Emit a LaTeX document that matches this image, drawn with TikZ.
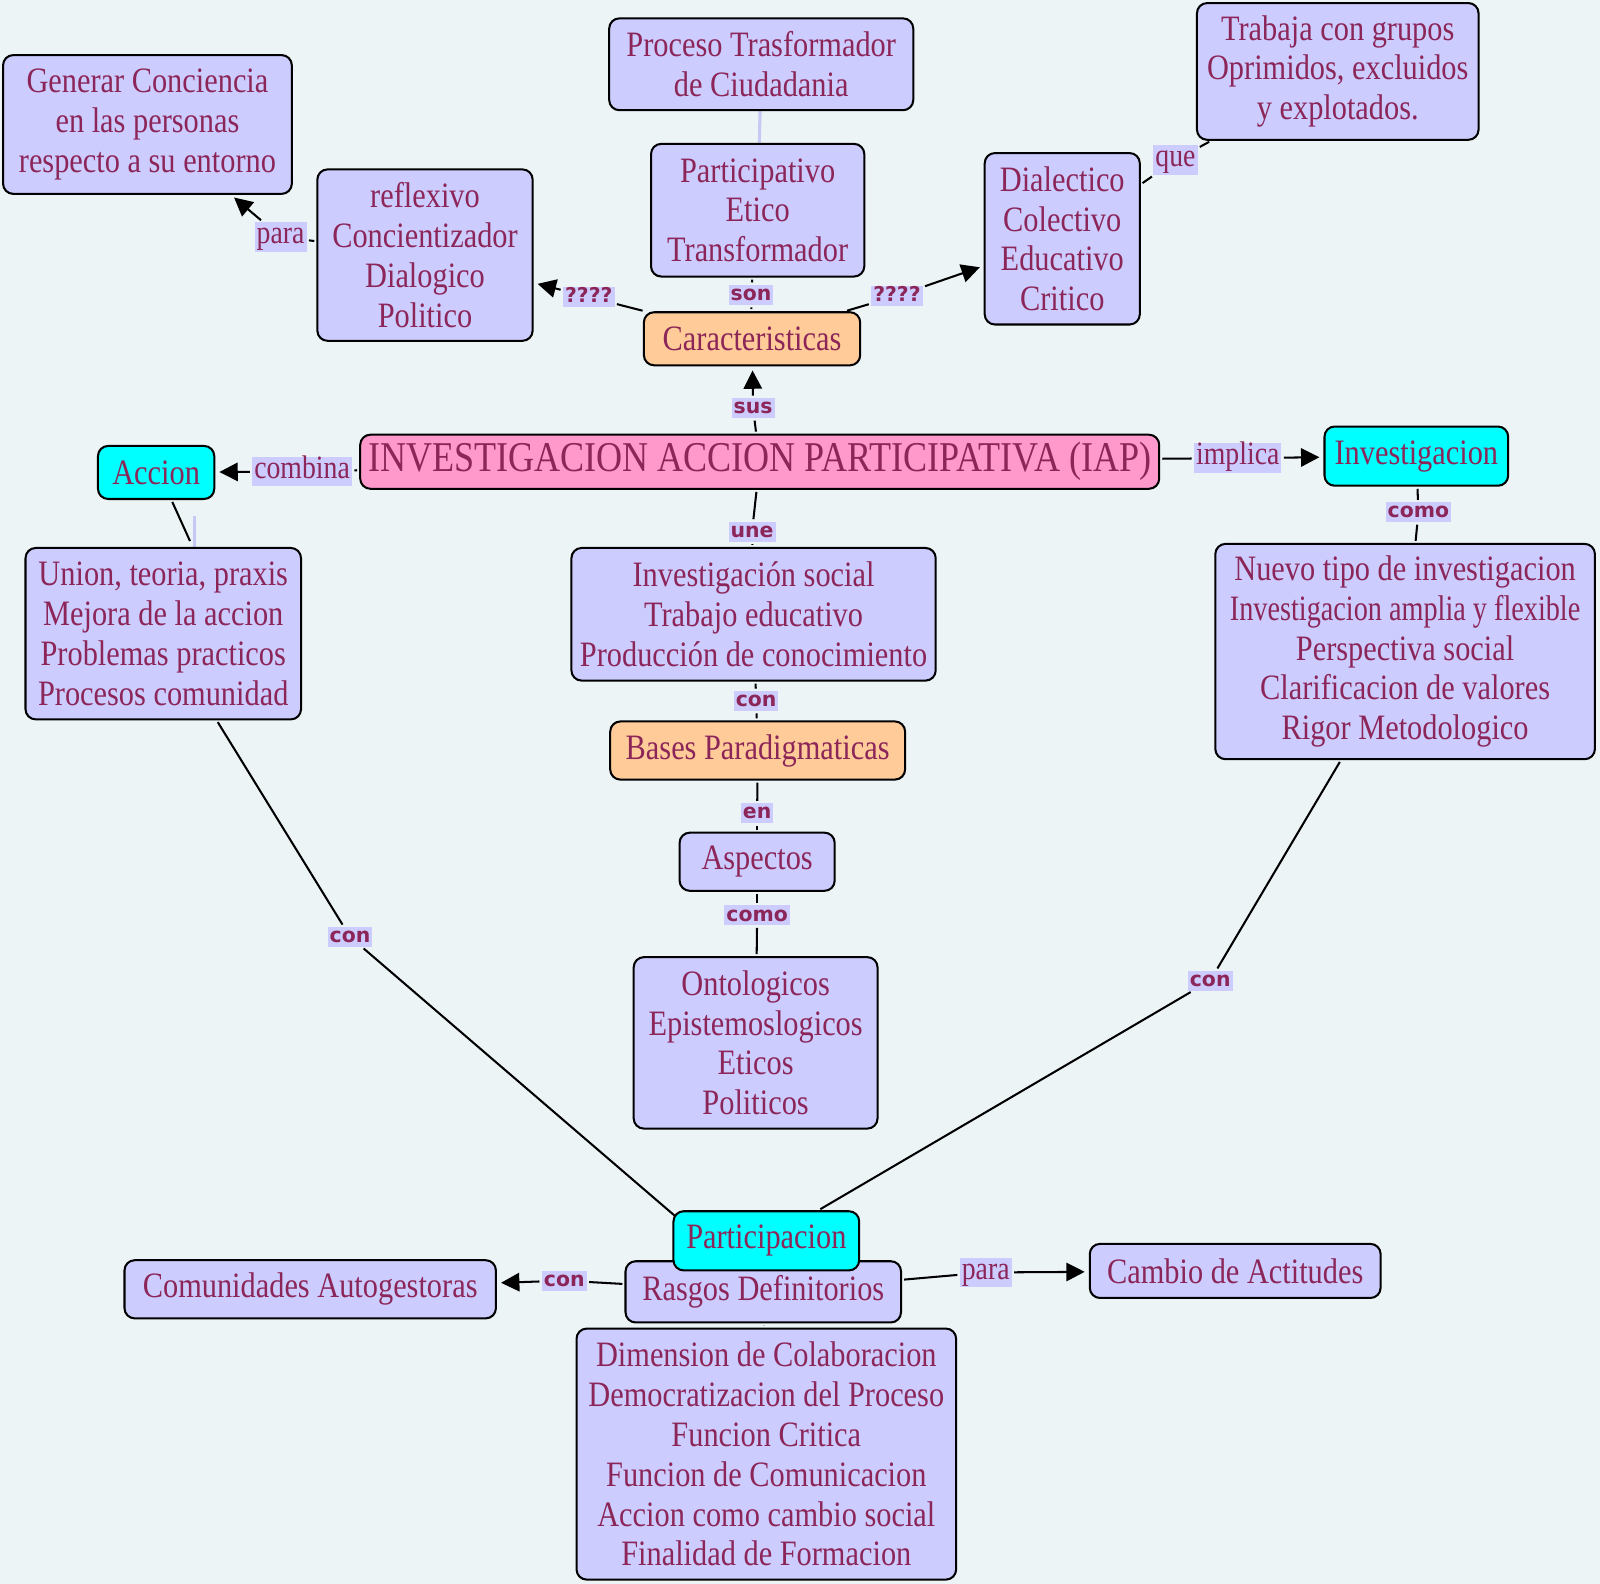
\documentclass[tikz,border=0pt]{standalone}
\usepackage{fontspec}
\setmainfont{Liberation Serif}[FakeStretch=0.85]
\newfontfamily\labfont{DejaVu Sans}
\usetikzlibrary{arrows.meta}
\definecolor{bgc}{HTML}{EDF4F6}
\definecolor{lav}{HTML}{CCCCFF}
\definecolor{cya}{HTML}{00FFFF}
\definecolor{peach}{HTML}{FFCC99}
\definecolor{pinkc}{HTML}{FF99CC}
\definecolor{txt}{HTML}{8C2659}
\definecolor{pale}{HTML}{C8C8F4}
\pgfdeclarelayer{back}\pgfdeclarelayer{links}\pgfsetlayers{back,links,main}
\tikzset{
 box/.style={draw=black, line width=1pt, rounded corners=5pt, fill=lav, text=txt, align=center, inner sep=1pt, font=\fontsize{17.5}{19.5}\selectfont},
 cyanbox/.style={box, fill=cya},
 peachbox/.style={box, fill=peach},
 lab/.style={fill=lav, text=txt, inner xsep=1pt, inner ysep=0.5pt, font=\labfont\bfseries\fontsize{10}{10}\selectfont, text height=7.2pt, text depth=1.6pt},
 plab/.style={fill=lav, text=txt, inner xsep=1pt, inner ysep=0.5pt, font=\fontsize{16}{16}\selectfont, text height=10pt, text depth=3.5pt},
 link/.style={draw=black, line width=1pt, shorten <=1pt, shorten >=1pt},
 arr/.style={link, shorten >=2pt, -{Triangle[length=9pt,width=9pt]}},
 palelink/.style={draw=pale, line width=1.5pt},
}
\begin{document}
\begin{tikzpicture}[x=0.5pt,y=-0.5pt]
\begin{pgfonlayer}{back}
\fill[bgc] (0,0) rectangle (1568,1552);
\end{pgfonlayer}
\useasboundingbox (0,0) rectangle (1568,1552);
% nodes
\node[box, minimum width=141.5pt, minimum height=68pt] (gen) at (144.5,122) {Generar Conciencia\\en las personas\\respecto a su entorno};
\node[box, minimum width=105.5pt, minimum height=84pt] (refl) at (416.5,250) {reflexivo\\Concientizador\\Dialogico\\Politico};
\node[box, minimum width=149pt, minimum height=45pt] (proc) at (746,63) {Proceso Trasformador\\de Ciudadania};
\node[box, minimum width=104.5pt, minimum height=65pt] (part) at (742.5,206) {Participativo\\Etico\\Transformador};
\node[box, minimum width=138pt, minimum height=67pt] (trab) at (1311,70) {Trabaja con grupos\\Oprimidos, excluidos\\y explotados.};
\node[box, minimum width=76pt, minimum height=84pt] (dial) at (1041,234) {Dialectico\\Colectivo\\Educativo\\Critico};
\node[peachbox, minimum width=106pt, minimum height=26pt] (car) at (737,332) {Caracteristicas};
\node[box, fill=pinkc, minimum width=391.5pt, minimum height=26.5pt, font=\fontsize{20.8}{22}\selectfont] (iap) at (744.5,452.5) {INVESTIGACION ACCION PARTICIPATIVA (IAP)};
\node[cyanbox, minimum width=57pt, minimum height=26pt] (acc) at (153,463) {Accion};
\node[cyanbox, minimum width=90pt, minimum height=29pt] (inv) at (1388,447) {Investigacion};
\node[box, minimum width=135pt, minimum height=84pt] (union) at (160,621) {Union, teoria, praxis\\Mejora de la accion\\Problemas practicos\\Procesos comunidad};
\node[box, minimum width=178.5pt, minimum height=65pt] (isoc) at (738.5,602) {Investigación social\\Trabajo educativo\\Producción de conocimiento};
\node[peachbox, minimum width=144.5pt, minimum height=28.5pt] (bases) at (742.5,735.5) {Bases Paradigmaticas};
\node[box, minimum width=76pt, minimum height=28.5pt] (asp) at (742,844.5) {Aspectos};
\node[box, minimum width=119.5pt, minimum height=84pt] (onto) at (740.5,1022) {Ontologicos\\Epistemoslogicos\\Eticos\\Politicos};
\node[box, minimum width=186pt, minimum height=105.5pt] (nuevo) at (1377,638.5) {Nuevo tipo de investigacion\\\scalebox{0.93}[1]{Investigacion amplia y flexible}\\Perspectiva social\\Clarificacion de valores\\Rigor Metodologico};
\node[box, minimum width=135pt, minimum height=30pt] (rasgos) at (748,1266) {Rasgos Definitorios};
\node[cyanbox, minimum width=91pt, minimum height=29pt] (partic) at (751,1216) {Participacion};
\node[box, minimum width=182pt, minimum height=28.5pt] (comun) at (304,1263.5) {Comunidades Autogestoras};
\node[box, minimum width=142.5pt, minimum height=26.5pt] (cambio) at (1210.5,1245.5) {Cambio de Actitudes};
\node[box, minimum width=186pt, minimum height=123pt] (dim) at (751,1425) {Dimension de Colaboracion\\Democratizacion del Proceso\\Funcion Critica\\Funcion de Comunicacion\\Accion como cambio social\\Finalidad de Formacion};
% labels
\node[lab] (q1) at (577,291) {????};
\node[plab] (para1) at (275,232) {para};
\node[lab] (q2) at (879,290) {????};
\node[plab] (que) at (1152,157) {que};
\node[lab] (son) at (736,289) {son};
\node[lab] (sus) at (738,400) {sus};
\node[plab] (comb) at (296,462) {combina};
\node[plab] (impl) at (1213,449) {implica};
\node[lab] (une) at (737,521) {une};
\node[lab] (con1) at (741,687) {con};
\node[lab] (en) at (742,797) {en};
\node[lab] (como1) at (742,897) {como};
\node[lab] (como2) at (1390,502) {como};
\node[lab] (con2) at (343,918) {con};
\node[lab] (con3) at (1186,961) {con};
\node[lab] (con4) at (553,1255) {con};
\node[plab] (para2) at (966,1247) {para};
% links
\begin{pgfonlayer}{links}
\draw[link] (car) -- (q1); \draw[arr] (q1) -- (refl);
\draw[link] (refl) -- (para1); \draw[arr] (para1) -- (gen);
\draw[link] (car) -- (q2); \draw[arr] (q2) -- (dial);
\draw[link] (dial) -- (que); \draw[link] (que) -- (trab);
\draw[link] (car) -- (son); \draw[link] (son) -- (part);
\draw[palelink] (proc) -- (part);
\draw[link] (iap) -- (sus); \draw[arr] (sus) -- (car);
\draw[link] (iap) -- (comb); \draw[arr] (comb) -- (acc);
\draw[link] (iap) -- (impl); \draw[arr] (impl) -- (inv);
\draw[link] (iap) -- (une); \draw[link] (une) -- (isoc);
\draw[link] (isoc) -- (con1); \draw[link] (con1) -- (bases);
\draw[link] (bases) -- (en); \draw[link] (en) -- (asp);
\draw[link] (asp) -- (como1); \draw[link] (como1) -- (onto);
\draw[link] (inv) -- (como2); \draw[link] (como2) -- (nuevo);
\draw[link] ([xshift=7.5pt]acc.south) -- ([xshift=13.5pt,yshift=2pt]union.north);
\draw[palelink] ([xshift=19pt,yshift=-8pt]acc.south) -- ([xshift=15.5pt]union.north);
\draw[link] (union) -- (con2); \draw[link] (con2) -- (rasgos);
\draw[link] (nuevo) -- (con3); \draw[link] (con3) -- (partic);
\draw[link] (rasgos) -- (con4); \draw[arr] (con4) -- (comun);
\draw[link] (rasgos) -- (para2); \draw[arr] (para2) -- (cambio);
\draw[link] (rasgos) -- (dim);
\end{pgfonlayer}
\end{tikzpicture}
\end{document}
